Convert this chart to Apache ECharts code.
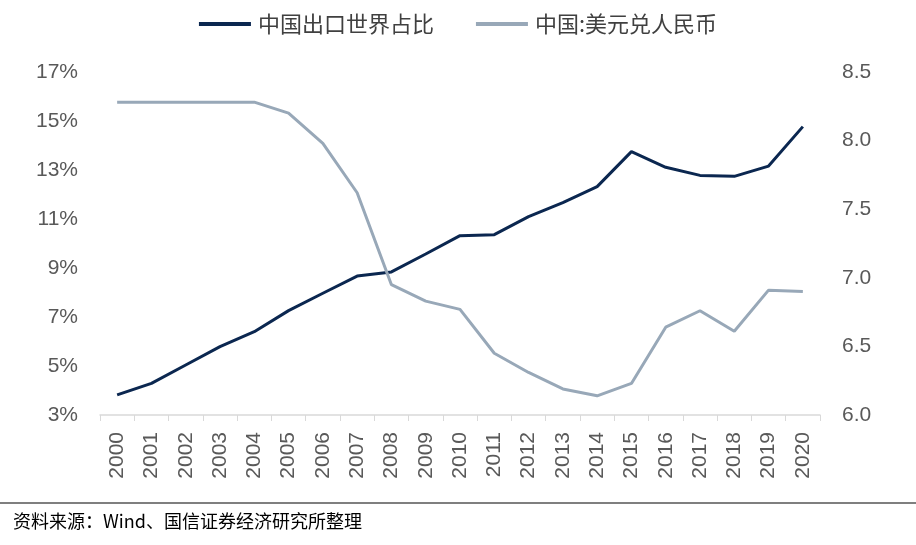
<!DOCTYPE html>
<html>
<head>
<meta charset="utf-8">
<script src="https://cdn.jsdelivr.net/npm/echarts@6/dist/echarts.min.js"></script>
<style>
  html, body { margin: 0; padding: 0; background: #fff; }
  #chart { width: 916px; height: 545px; }
</style>
</head>
<body>
<div id="chart"></div>
<script>
// 年份
const years = ['2000', '2001', '2002', '2003', '2004', '2005', '2006', '2007', '2008', '2009', '2010',
  '2011', '2012', '2013', '2014', '2015', '2016', '2017', '2018', '2019', '2020'];
// 中国出口世界占比 (%)
const exportShare = [3.82, 4.29, 5.04, 5.79, 6.40, 7.26, 7.97, 8.67, 8.84, 9.57, 10.32,
  10.36, 11.10, 11.67, 12.32, 13.75, 13.11, 12.78, 12.74, 13.16, 14.77];
// 美元兑人民币
const usdCny = [8.28, 8.28, 8.28, 8.28, 8.28, 8.20, 7.98, 7.62, 6.95, 6.83, 6.77,
  6.45, 6.31, 6.19, 6.14, 6.23, 6.64, 6.76, 6.61, 6.91, 6.90];

const seriesNames = ['中国出口世界占比', '中国:美元兑人民币'];
const colors = ['#0b2750', '#98a8b8'];

const chart = echarts.init(document.getElementById('chart'), null, { renderer: 'canvas' });

chart.setOption({
  animation: false,
  backgroundColor: '#fff',
  legend: {
    top: 8,
    left: 'center',
    itemGap: 42,
    itemWidth: 52,
    itemHeight: 4,
    icon: 'rect',
    textStyle: { fontFamily: 'Noto Sans CJK SC', fontSize: 22, color: '#404040', padding: [0, 0, 0, 2] },
    data: seriesNames
  },
  grid: { left: 100, right: 96, top: 72, bottom: 130 },
  xAxis: {
    type: 'category',
    data: years,
    boundaryGap: true,
    axisLine: { lineStyle: { color: '#d9d9d9', width: 1.5 } },
    axisTick: { show: true, length: 6, lineStyle: { color: '#d9d9d9' } },
    axisLabel: {
      rotate: 90, interval: 0, margin: 17,
      fontFamily: 'Arial, Liberation Sans', fontSize: 21, color: '#595959'
    }
  },
  yAxis: [
    {
      type: 'value', min: 3, max: 17, interval: 2,
      splitLine: { show: false },
      axisLine: { show: false }, axisTick: { show: false },
      axisLabel: {
        formatter: v => v + '%', margin: 22,
        fontFamily: 'Arial, Liberation Sans', fontSize: 21, color: '#595959'
      }
    },
    {
      type: 'value', min: 6.0, max: 8.5, interval: 0.5,
      splitLine: { show: false },
      axisLine: { show: false }, axisTick: { show: false },
      axisLabel: {
        formatter: v => v.toFixed(1), margin: 22,
        fontFamily: 'Arial, Liberation Sans', fontSize: 21, color: '#595959'
      }
    }
  ],
  series: [
    {
      name: seriesNames[0], type: 'line', yAxisIndex: 0, data: exportShare,
      symbol: 'none', lineStyle: { width: 3, color: colors[0] }, itemStyle: { color: colors[0] }
    },
    {
      name: seriesNames[1], type: 'line', yAxisIndex: 1, data: usdCny,
      symbol: 'none', lineStyle: { width: 3, color: colors[1] }, itemStyle: { color: colors[1] }
    }
  ],
  graphic: [
    {
      type: 'line', shape: { x1: 0, y1: 503, x2: 916, y2: 503 },
      style: { stroke: '#000', lineWidth: 1.2 }
    },
    {
      type: 'text', left: 13, top: 512,
      style: {
        text: '资料来源：Wind、国信证券经济研究所整理',
        font: '18px "Noto Sans CJK SC"', fill: '#000'
      }
    }
  ]
});
</script>
</body>
</html>
